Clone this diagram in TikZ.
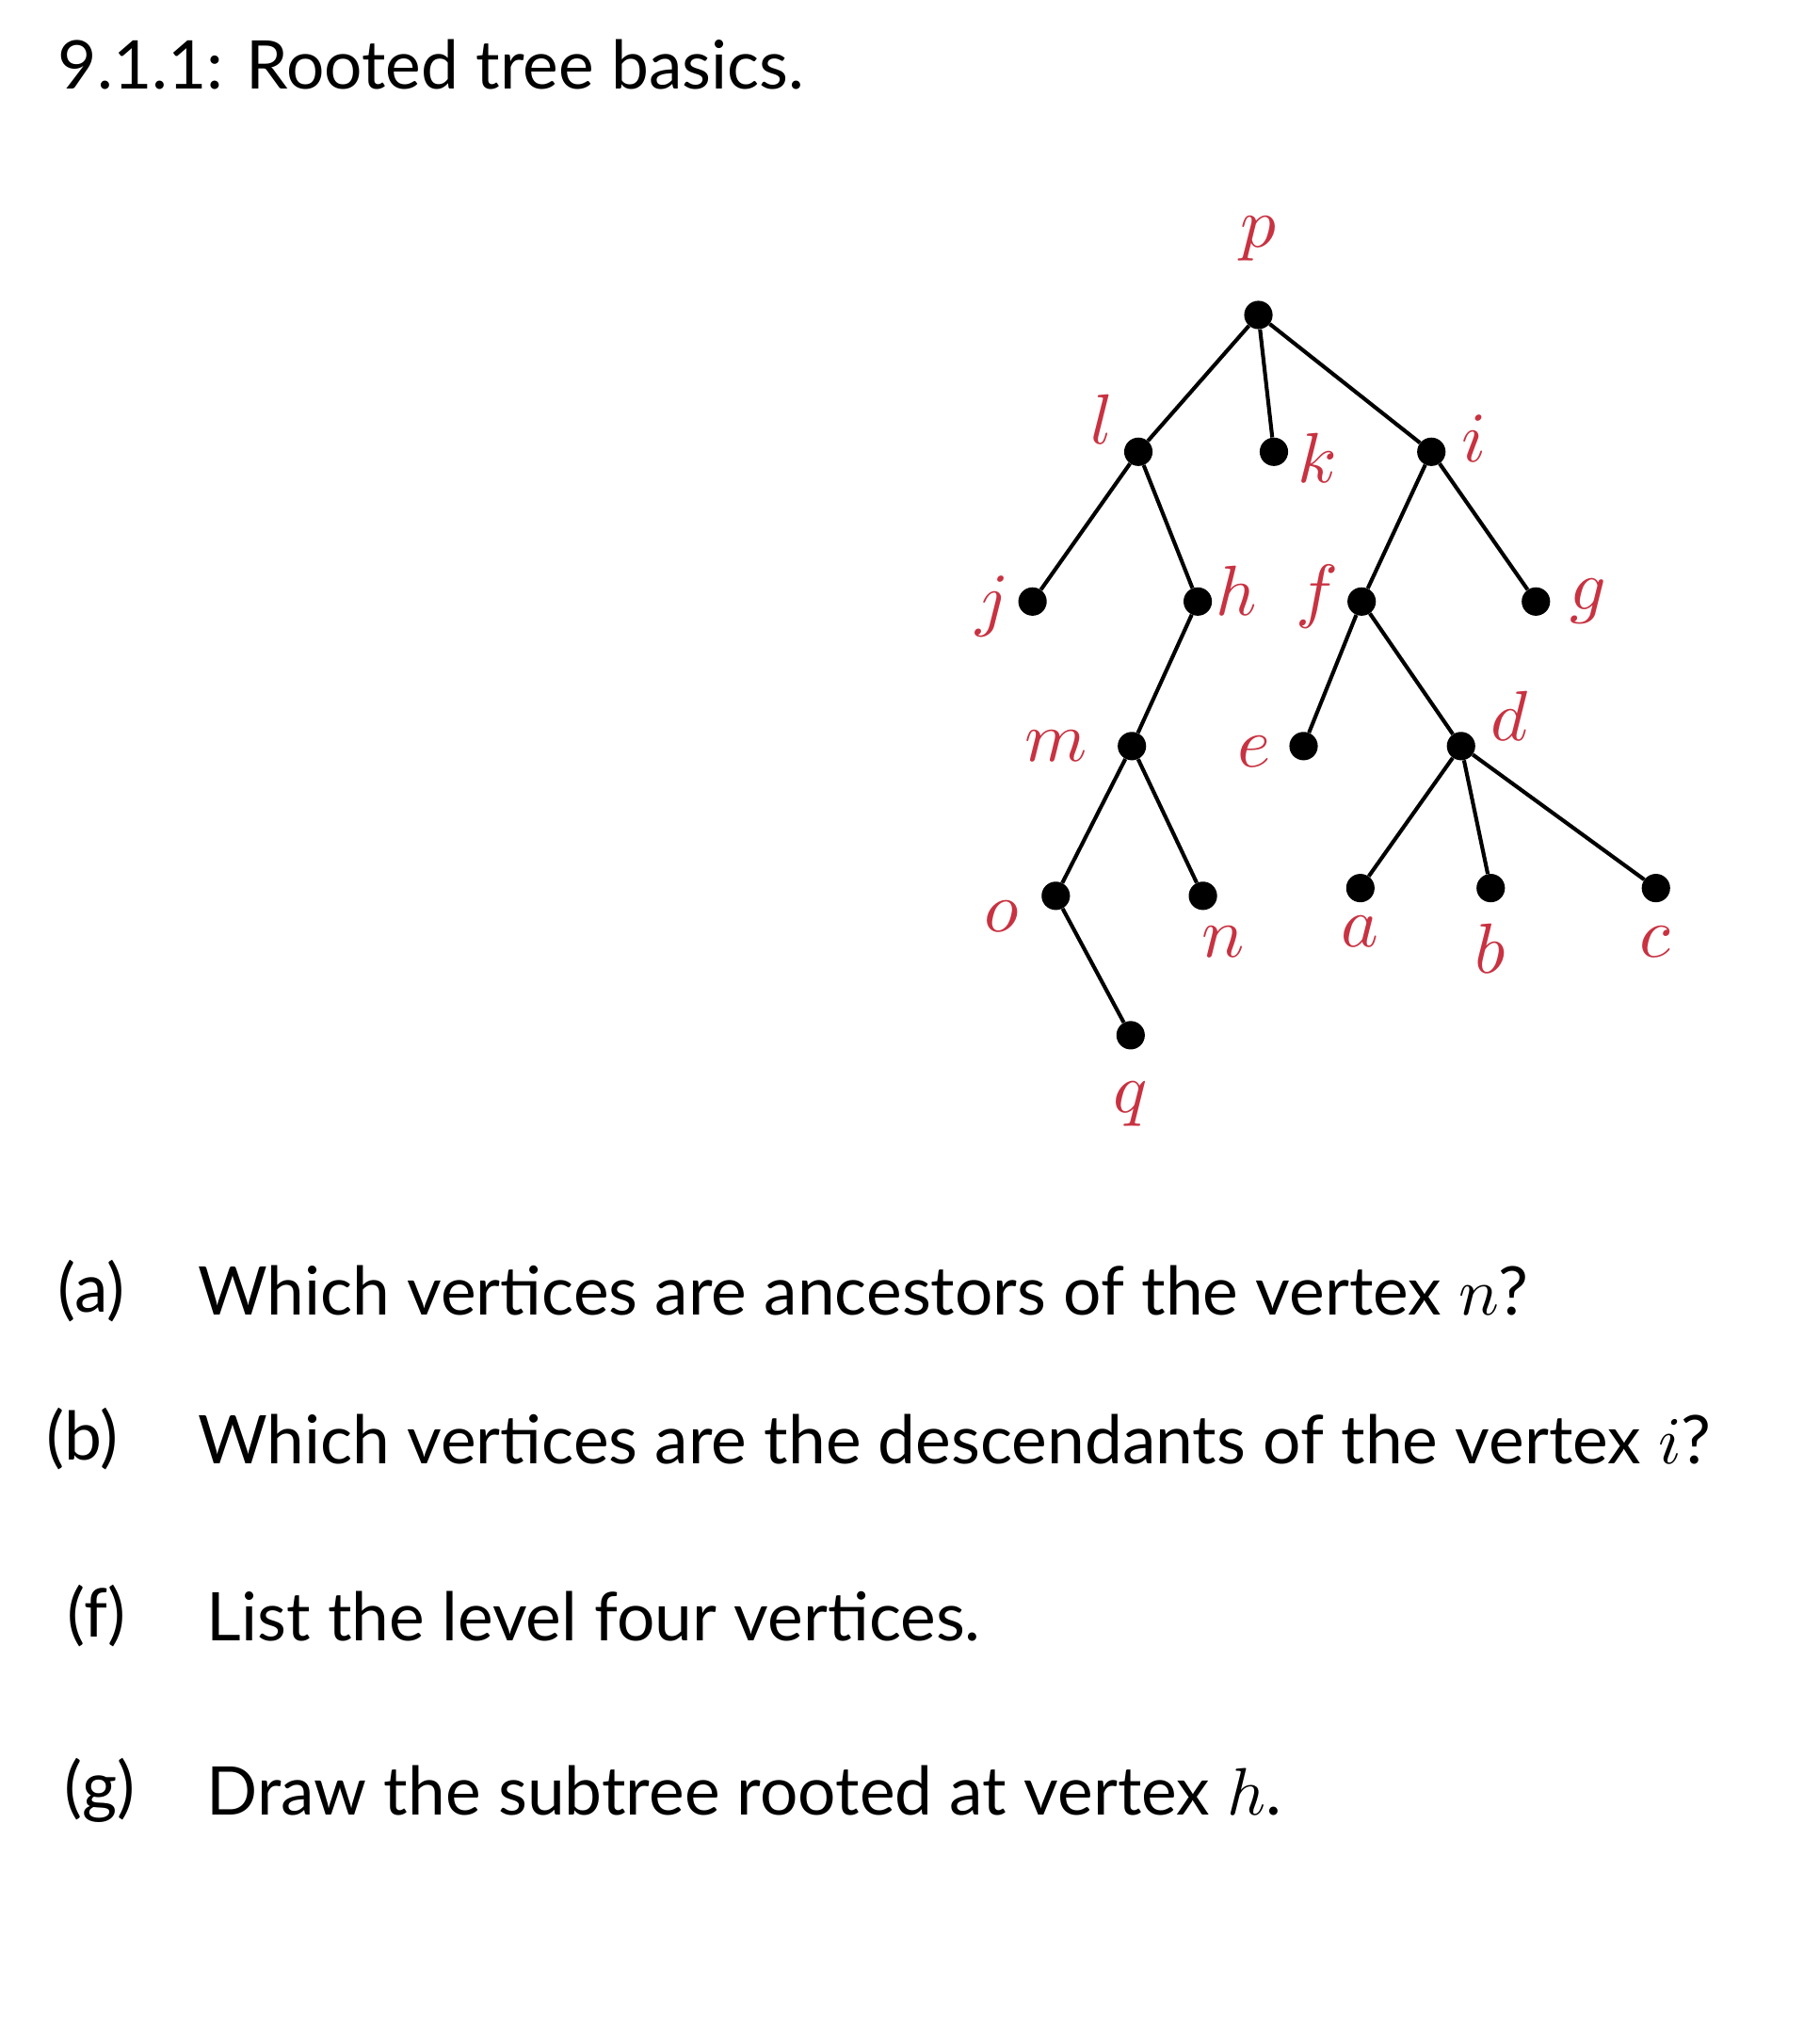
\documentclass[tikz,border=0pt]{standalone}
\usepackage{fontspec}
\setmainfont{Lato}
\usepackage{unicode-math}
\definecolor{lab}{RGB}{200,50,65}
\begin{document}
\begin{tikzpicture}[x=1pt,y=-1pt,
  v/.style={circle,fill=black,inner sep=0pt,minimum size=22pt},
  lb/.style={text=lab,font=\fontsize{55}{60}\selectfont},
  tx/.style={anchor=west,inner sep=0pt,font=\fontsize{52}{60}\selectfont},
  e/.style={line width=3pt}]
\useasboundingbox (0,0) rectangle (1410,1575);
\node[tx] (title) at (45,50) {9.1.1: Rooted tree basics.};
\foreach \n/\x/\y in {p/975/244,l/882/350,k/987/350,i/1109/350,j/800/466,h/928/466,f/1055/466,g/1190/466,m/877/578,e/1010/578,d/1132/578,o/818/694,n/932/694,a/1054/688,b/1155/688,c/1283/688,q/876/802}
  \node[v] (\n) at (\x,\y) {};
\foreach \s/\t in {p/l,p/k,p/i,l/j,l/h,h/m,m/o,m/n,o/q,i/f,i/g,f/e,f/d,d/a,d/b,d/c}
  \draw[e] (\s) -- (\t);
\foreach \n/\x/\y in {p/975/185,l/853/325,k/1020/355,i/1142/340,j/768/470,h/958/458,f/1020/462,g/1230/466,m/818/578,e/972/582,d/1170/555,o/776/710,n/948/730,a/1054/722,b/1155/735,c/1283/730,q/876/855}
  \node[lb] (L\n) at (\x,\y) {$\n$};
\node[tx] (la) at (45,1000) {(a)};
\node[tx] (qa) at (153,1000) {Which vertices are ancestors of the vertex $n$?};
\node[tx] (lbb) at (36,1115) {(b)};
\node[tx] (qb) at (153,1115) {Which vertices are the descendants of the vertex $i$?};
\node[tx] (lf) at (52,1252) {(f)};
\node[tx] (qf) at (160,1252) {List the level four vertices.};
\node[tx] (lg) at (50,1387) {(g)};
\node[tx] (qg) at (160,1387) {Draw the subtree rooted at vertex $h$.};
\end{tikzpicture}
\end{document}
